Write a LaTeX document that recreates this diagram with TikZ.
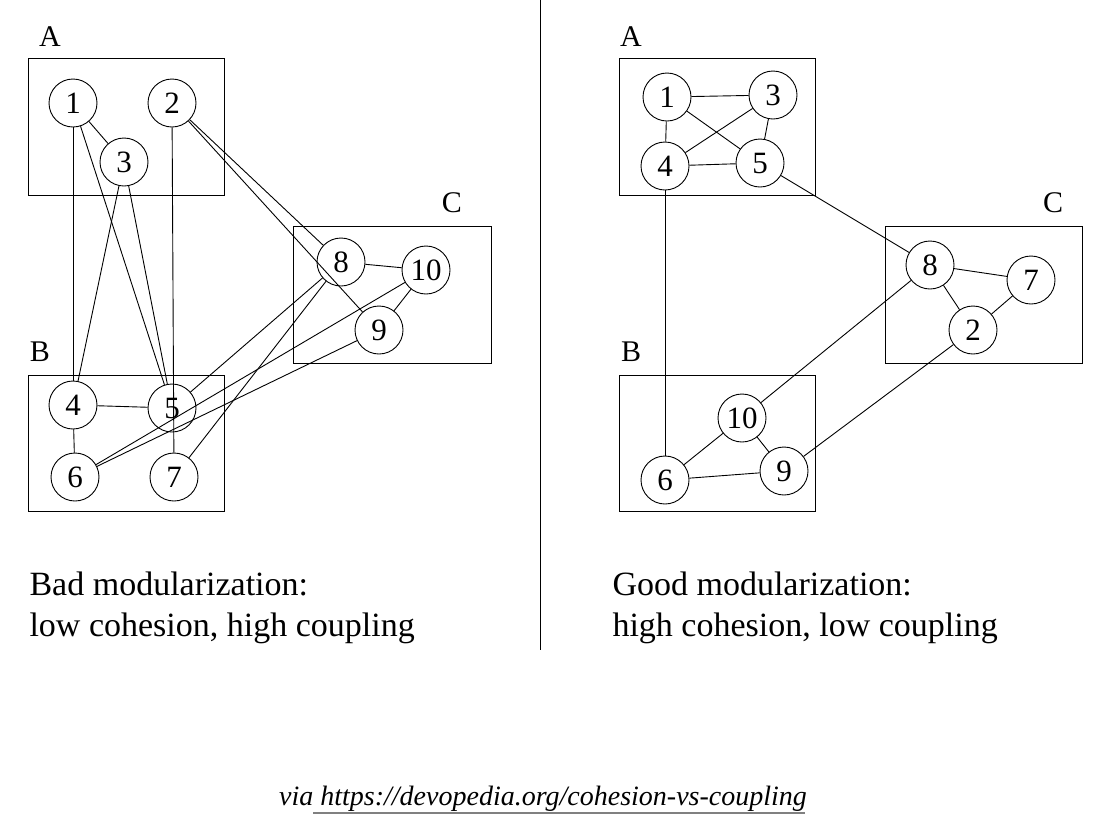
\documentclass[tikz,border=0pt]{standalone}
\usepackage{fontspec}
\setmainfont{Liberation Serif}
\begin{document}
\begin{tikzpicture}[x=1pt,y=-1pt,
 nd/.style={circle,draw,line width=0.9pt,minimum size=48pt,inner sep=0pt,font=\fontsize{31}{31}\selectfont},
 box/.style={draw,line width=1pt},
 ed/.style={line width=0.9pt},
 lab/.style={font=\fontsize{30}{30}\selectfont},
 captxt/.style={font=\fontsize{34}{41}\selectfont,align=left,anchor=north west}]
\useasboundingbox (0,0) rectangle (1106,823);
% left
\draw[box] (28,58) rectangle (224,195);
\draw[box] (28,375) rectangle (224,511);
\draw[box] (293,226) rectangle (491,363);
\node[lab] (lA) at (50,37) {A};
\node[lab] (lB) at (40,352) {B};
\node[lab] (lC) at (452,203) {C};
\node[nd] (a1) at (73,103) {1};
\node[nd] (a2) at (172,103) {2};
\node[nd] (a3) at (124,162) {3};
\node[nd] (a4) at (73,405) {4};
\node[nd] (a5) at (172,408) {5};
\node[nd] (a6) at (75,477) {6};
\node[nd] (a7) at (174,477) {7};
\node[nd] (a8) at (341,262) {8};
\node[nd] (a10) at (426,270) {10};
\node[nd] (a9) at (379,330) {9};
\foreach \u/\v in {a1/a3,a1/a4,a1/a5,a2/a7,a2/a8,a2/a9,a3/a4,a3/a5,a4/a5,a4/a6,a8/a10,a10/a9,a8/a5,a8/a7,a10/a6,a9/a6}
 \draw[ed] (\u) -- (\v);
\node[captxt] (capL) at (26,568) {Bad modularization:\\low cohesion, high coupling};
% divider
\coordinate (d1) at (540,0); \coordinate (d2) at (540,650);
\draw[line width=0.9pt] (d1) -- (d2);
% right
\draw[box] (619,58) rectangle (815,195);
\draw[box] (619,375) rectangle (815,511);
\draw[box] (885,226) rectangle (1082,363);
\node[lab] (rA) at (631,37) {A};
\node[lab] (rB) at (631,352) {B};
\node[lab] (rC) at (1053,203) {C};
\node[nd] (b1) at (667,97) {1};
\node[nd] (b3) at (773,95) {3};
\node[nd] (b4) at (665,166) {4};
\node[nd] (b5) at (760,163) {5};
\node[nd] (b8) at (930,265) {8};
\node[nd] (b7) at (1031,280) {7};
\node[nd] (b2) at (973,330) {2};
\node[nd] (b10) at (742,418) {10};
\node[nd] (b9) at (784,471) {9};
\node[nd] (b6) at (665,480) {6};
\foreach \u/\v in {b1/b3,b1/b4,b1/b5,b4/b3,b4/b5,b3/b5,b5/b8,b8/b7,b8/b2,b7/b2,b4/b6,b8/b10,b2/b9,b10/b6,b10/b9,b6/b9}
 \draw[ed] (\u) -- (\v);
\node[captxt] (capR) at (609,568) {Good modularization:\\high cohesion, low coupling};
% footer
\node[font=\fontsize{28}{28}\selectfont\itshape,anchor=base] (via) at (543,805) {via https://devopedia.org/cohesion-vs-coupling};
\coordinate (u1) at (313,813); \coordinate (u2) at (805,813);
\draw[gray,line width=1.2pt] (u1) -- (u2);
\end{tikzpicture}
\end{document}
